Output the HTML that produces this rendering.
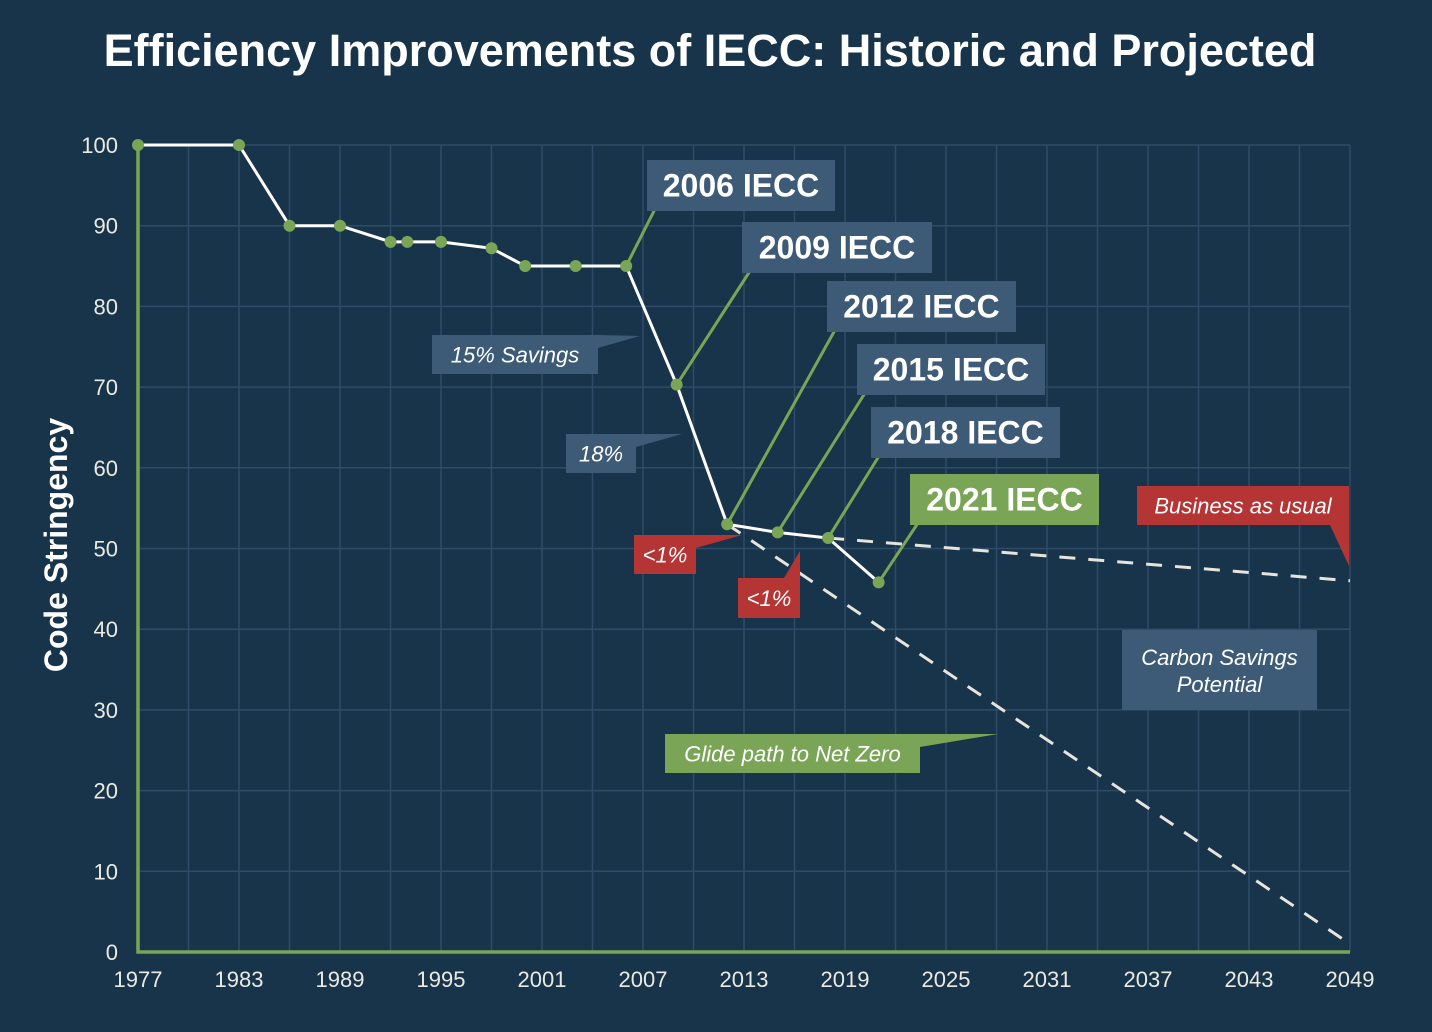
<!DOCTYPE html>
<html><head><meta charset="utf-8">
<style>
html,body{margin:0;padding:0;background:#17344a;}
body{width:1432px;height:1032px;overflow:hidden;font-family:"Liberation Sans",sans-serif;}
svg{display:block;}
svg text{font-family:"Liberation Sans",sans-serif;}
</style></head>
<body>
<svg id="chart" width="1432" height="1032" viewBox="0 0 1432 1032" xmlns="http://www.w3.org/2000/svg">
<rect width="1432" height="1032" fill="#17344a"/>
<text x="710" y="66" text-anchor="middle" fill="#ffffff" font-size="45" font-weight="bold">Efficiency Improvements of IECC: Historic and Projected</text>
<text transform="translate(67,545) rotate(-90)" text-anchor="middle" fill="#ffffff" font-size="32" font-weight="bold">Code Stringency</text>
<g id="grid"></g>
<g id="annot"></g>
<g id="series"></g>
<g id="labels"></g>
</svg>
<script>
const years = [1977,1983,1986,1989,1992,1993,1995,1998,2000,2003,2006,2009,2012,2015,2018,2021];
const stringency = [100,100,90,90,88,88,88,87.2,85,85,85,70.3,53,52,51.3,45.8];
const bauYears = [2018,2049];
const bauValues = [51.3,46];
const netZeroYears = [2012,2049];
const netZeroValues = [53,1];
const xTicks = [1977,1983,1989,1995,2001,2007,2013,2019,2025,2031,2037,2043,2049];
const yTicks = [0,10,20,30,40,50,60,70,80,90,100];

const NS="http://www.w3.org/2000/svg";
const x = y => 138 + (y-1977)*(1212/72);
const yv = v => 952 - v*8.07;
function mk(tag, attrs, parent){const e=document.createElementNS(NS,tag);for(const k in attrs)e.setAttribute(k,attrs[k]);parent.appendChild(e);return e;}
const grid=document.getElementById('grid'), ser=document.getElementById('series'), lab=document.getElementById('labels'), ann=document.getElementById('annot');

for(let yr=1980; yr<=2049; yr+=3){
  const l=mk('line',{x1:x(yr),x2:x(yr),y1:yv(100),y2:yv(0),stroke:'#2e4c67','stroke-width':1.5},grid);
  
  
}
yTicks.forEach(v=>{
  const l=mk('line',{x1:x(1977),x2:x(2049),y1:yv(v),y2:yv(v),stroke:'#2e4c67','stroke-width':1.5},grid);
  
  
  const t=mk('text',{x:118,y:yv(v)+8,'text-anchor':'end',fill:'#ebeae2','font-size':22},grid);
  t.textContent=v;
  
  
});
xTicks.forEach(yr=>{
  const t=mk('text',{x:x(yr),y:987,'text-anchor':'middle',fill:'#ebeae2','font-size':22},grid);
  t.textContent=yr;
  
  
});
const ax=mk('path',{d:`M${x(1977)},${yv(100)} L${x(1977)},${yv(0)} L${x(2049)},${yv(0)}`,fill:'none',stroke:'#7aa556','stroke-width':3.5},grid);



const bau=mk('line',{x1:x(bauYears[0]),y1:yv(bauValues[0]),x2:x(bauYears[1]),y2:yv(bauValues[1]),stroke:'#e6e4dc','stroke-width':3,'stroke-dasharray':'16 13'},ser);


const nz=mk('line',{x1:x(netZeroYears[0]),y1:yv(netZeroValues[0]),x2:x(netZeroYears[1]),y2:yv(netZeroValues[1]),stroke:'#e6e4dc','stroke-width':3,'stroke-dasharray':'16 13'},ser);



const callouts=[
 {i:10,bx:647,by:160,w:188,h:51,t:'2006 IECC',c:'#3d5b76'},
 {i:11,bx:742,by:222,w:190,h:51,t:'2009 IECC',c:'#3d5b76'},
 {i:12,bx:827,by:281,w:189,h:51,t:'2012 IECC',c:'#3d5b76'},
 {i:13,bx:857,by:344,w:188,h:51,t:'2015 IECC',c:'#3d5b76'},
 {i:14,bx:871,by:407,w:189,h:51,t:'2018 IECC',c:'#3d5b76'},
 {i:15,bx:910,by:474,w:189,h:51,t:'2021 IECC',c:'#7aa556'}
];
callouts.forEach(c=>{
  const l=mk('line',{x1:x(years[c.i]),y1:yv(stringency[c.i]),x2:c.bx+8,y2:c.by+c.h-2,stroke:'#7aa556','stroke-width':3},ann);
  
  
});

const pts=years.map((yr,i)=>`${x(yr)},${yv(stringency[i])}`).join(' ');
const pl=mk('polyline',{points:pts,fill:'none',stroke:'#ffffff','stroke-width':3},ser);


years.forEach((yr,i)=>{
  const c=mk('circle',{cx:x(yr),cy:yv(stringency[i]),r:6,fill:'#7aa556'},ser);
  
  
});

callouts.forEach(c=>{
  const r=mk('rect',{x:c.bx,y:c.by,width:c.w,height:c.h,fill:c.c},lab);
  
  
  const t=mk('text',{x:c.bx+c.w/2,y:c.by+c.h/2+11,'text-anchor':'middle',fill:'#ffffff','font-size':32,'font-weight':'600'},lab);
  t.textContent=c.t;
  
  
});

const notes=[
 {x:432,y:335,w:166,h:39,tail:'598,335 640,336 598,348',t:['15% Savings'],c:'#3d5b76',n:'savings-15-note'},
 {x:566,y:434,w:70,h:39,tail:'636,434 682,434 636,447',t:['18%'],c:'#3d5b76',n:'savings-18-note'},
 {x:634,y:535,w:62,h:39,tail:'680,535 742,535 696,548',t:['<1%'],c:'#b53434',n:'less-than-1-note-a'},
 {x:738,y:578,w:62,h:40,tail:'784,578 800,551 800,578',t:['<1%'],c:'#b53434',n:'less-than-1-note-b'},
 {x:1137,y:486,w:212,h:39,tail:'1330,525 1349,525 1349,566',t:['Business as usual'],c:'#b53434',n:'business-as-usual-note'},
 {x:1122,y:630,w:195,h:80,tail:null,t:['Carbon Savings','Potential'],c:'#3d5b76',n:'carbon-savings-note'},
 {x:665,y:734,w:255,h:39,tail:'920,734 998,734 920,747',t:['Glide path to Net Zero'],c:'#7aa556',n:'glide-path-note'}
];
notes.forEach(n=>{
  const g=mk('g',{},lab);
  
  
  mk('rect',{x:n.x,y:n.y,width:n.w,height:n.h,fill:n.c},g);
  if(n.tail) mk('polygon',{points:n.tail,fill:n.c},g);
  n.t.forEach((s,k)=>{
    const base = n.y + n.h/2 + 8 - (n.t.length-1)*13 + k*27;
    const t=mk('text',{x:n.x+n.w/2,y:base,'text-anchor':'middle',fill:'#ffffff','font-size':22,'font-style':'italic'},g);
    t.textContent=s;
  });
});
</script>
</body></html>
